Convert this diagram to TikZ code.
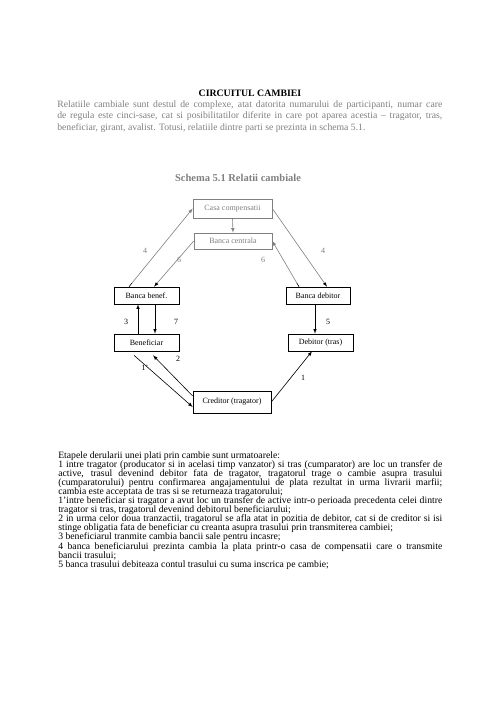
\documentclass[tikz,border=0pt]{standalone}
\usepackage{fontspec}
\setmainfont{Liberation Serif}
\begin{document}
\begin{tikzpicture}[x=1pt, y=-1pt, >={latex}, line width=0.6pt,
		box/.style={draw, inner sep=0pt, font=\fontsize{8}{9}\selectfont},
		nr/.style={inner sep=0pt, font=\fontsize{8}{9}\selectfont},
		txt/.style={anchor=base west, inner sep=0pt, align=justify}]
	\useasboundingbox (0,0) rectangle (500,707);
	\node[inner sep=0pt, font=\bfseries\fontsize{9.8}{11}\selectfont] (titlu) at (250,93) {CIRCUITUL CAMBIEI};
	\node[txt, text width=385, font=\fontsize{9.7}{11.5}\selectfont] (intro) at (57,107) {\parindent=0pt\hyphenpenalty=10000\tolerance=10000
		Relatiile cambiale sunt destul de complexe, atat datorita numarului de participanti, numar care\linebreak
		de regula este cinci-sase, cat si posibilitatilor diferite in care pot aparea acestia -- tragator, tras,\linebreak
		beneficiar, girant, avalist. Totusi, relatiile dintre parti se prezinta in schema 5.1.};
	\node[inner sep=0pt, font=\bfseries\fontsize{10.5}{12}\selectfont] (schema) at (238,178) {Schema 5.1 Relatii cambiale};

	\node[box, minimum width=79, minimum height=19] (cc) at (232.5,208.5) {Casa compensatii};
	\node[box, minimum width=78, minimum height=16] (bc) at (233,241) {Banca centrala};
	\node[box, minimum width=65, minimum height=17] (bb) at (146.5,295.5) {Banca benef.};
	\node[box, minimum width=64, minimum height=17] (bd) at (318,295.5) {Banca debitor};
	\node[box, minimum width=65, minimum height=17] (ben) at (146.5,342.5) {Beneficiar};
	\node[box, minimum width=65, minimum height=17] (deb) at (320.5,342.5) {Debitor (tras)};
	\node[box, minimum width=78, minimum height=22] (cred) at (232,402) {Creditor (tragator)};

	\draw[->] ([xshift=-17.5]bb.north) -- (cc.west);
	\draw[->] (cc.east) -- ([xshift=9]bd.north);
	\draw[->] (cc.south) -- (bc.north);
	\draw[->] (bc.west) -- ([xshift=7.5]bb.north);
	\draw[->] ([xshift=-19]bd.north) -- (bc.east);
	\draw[->] ([xshift=-8.5]ben.north) -- ([xshift=-8.5]bb.south);
	\draw[->] ([xshift=8.5]bb.south) -- ([xshift=8.5]ben.north);
	\draw[->] ([xshift=-3]bd.south) -- ([xshift=-5.5]deb.north);
	\draw[->] ([xshift=-12.5,yshift=-4]ben.south) -- ([yshift=-5]cred.west);
	\draw[->] ([yshift=6]cred.west) -- ([xshift=6.5,yshift=-4]ben.south);
	\draw[->] (cred.east) -- ([xshift=-8.5]deb.south);

	\node[nr] (n4a) at (145,251) {4};
	\node[nr] (n6a) at (179,260) {6};
	\node[nr] (n6b) at (263,260) {6};
	\node[nr] (n4b) at (323,251) {4};
	\node[nr] (n3) at (126,322) {3};
	\node[nr] (n7) at (176,322) {7};
	\node[nr] (n5) at (328,322) {5};
	\node[nr] (n1b) at (145,368) {1'};
	\node[nr] (n2) at (178,359) {2};
	\node[nr] (n1) at (303,378) {1};

	\fill[white, fill opacity=0.5] (0,97) rectangle (500,283);

	\node[txt, text width=384, font=\fontsize{9.7}{9.1}\selectfont] (etape) at (58,458) {\parindent=0pt\hyphenpenalty=10000\tolerance=10000
		Etapele derularii unei plati prin cambie sunt urmatoarele:\par
		1 intre tragator (producator si in acelasi timp vanzator) si tras (cumparator) are loc un transfer de\linebreak
		active, trasul devenind debitor fata de tragator, tragatorul trage o cambie asupra trasului\linebreak
		(cumparatorului) pentru confirmarea angajamentului de plata rezultat in urma livrarii marfii;\linebreak
		cambia este acceptata de tras si se returneaza tragatorului;\par
		1'intre beneficiar si tragator a avut loc un transfer de active intr-o perioada precedenta celei dintre\linebreak
		tragator si tras, tragatorul devenind debitorul beneficiarului;\par
		2 in urma celor doua tranzactii, tragatorul se afla atat in pozitia de debitor, cat si de creditor si isi\linebreak
		stinge obligatia fata de beneficiar cu creanta asupra trasului prin transmiterea cambiei;\par
		3 beneficiarul tranmite cambia bancii sale pentru incasre;\par
		4 banca beneficiarului prezinta cambia la plata printr-o casa de compensatii care o transmite\linebreak
		bancii trasului;\par
		5 banca trasului debiteaza contul trasului cu suma inscrica pe cambie;};
\end{tikzpicture}
\end{document}
